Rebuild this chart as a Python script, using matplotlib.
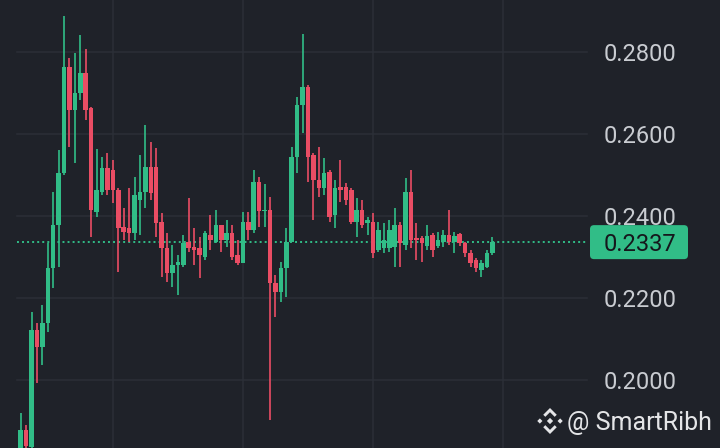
import matplotlib
matplotlib.use("Agg")
import matplotlib.pyplot as plt
import numpy as np
from matplotlib.patches import FancyBboxPatch, Polygon
from matplotlib.transforms import IdentityTransform, blended_transform_factory, ScaledTranslation

plt.rcParams['font.family'] = ['Roboto', 'DejaVu Sans']

opens = [0.1820,0.1879,0.1838,0.2123,0.2081,0.2140,0.2274,0.2379,0.2506,0.2764,
         0.2659,0.2701,0.2750,0.2664,0.2410,0.2459,0.2518,0.2513,0.2464,0.2374,
         0.2371,0.2359,0.2440,0.2459,0.2520,0.2520,0.2386,0.2323,0.2262,0.2281,
         0.2281,0.2337,0.2325,0.2323,0.2301,0.2354,0.2337,0.2379,0.2342,0.2359,
         0.2306,0.2286,0.2386,0.2367,0.2484,0.2413,0.2415,0.2237,0.2215,0.2274,
         0.2337,0.2545,0.2671,0.2715,0.2549,0.2488,0.2469,0.2508,0.2403,0.2472,
         0.2472,0.2464,0.2386,0.2415,0.2384,0.2386,0.2318,0.2323,0.2323,0.2325,
         0.2379,0.2330,0.2459,0.2347,0.2347,0.2328,0.2354,0.2328,0.2337,0.2354,
         0.2337,0.2357,0.2335,0.2310,0.2293,0.2269,0.2276,0.2310]
closes = [0.1879,0.1840,0.2123,0.2081,0.2140,0.2274,0.2379,0.2506,0.2764,0.2659,
          0.2701,0.2750,0.2659,0.2415,0.2464,0.2518,0.2464,0.2464,0.2371,0.2362,
          0.2359,0.2452,0.2459,0.2520,0.2457,0.2384,0.2323,0.2262,0.2281,0.2288,
          0.2335,0.2323,0.2318,0.2306,0.2359,0.2342,0.2379,0.2342,0.2359,0.2301,
          0.2286,0.2386,0.2367,0.2484,0.2413,0.2415,0.2237,0.2215,0.2274,0.2337,
          0.2545,0.2671,0.2715,0.2545,0.2488,0.2469,0.2506,0.2398,0.2469,0.2464,
          0.2440,0.2386,0.2415,0.2379,0.2391,0.2310,0.2367,0.2342,0.2367,0.2379,
          0.2335,0.2459,0.2342,0.2342,0.2335,0.2352,0.2318,0.2342,0.2354,0.2337,
          0.2352,0.2335,0.2310,0.2286,0.2274,0.2286,0.2310,0.2337]
highs = [0.1920,0.1891,0.2167,0.2140,0.2184,0.2335,0.2459,0.2562,0.2889,0.2786,
         0.2798,0.2842,0.2808,0.2667,0.2564,0.2545,0.2554,0.2537,0.2469,0.2420,
         0.2469,0.2496,0.2550,0.2623,0.2581,0.2567,0.2408,0.2359,0.2330,0.2306,
         0.2354,0.2445,0.2371,0.2350,0.2364,0.2403,0.2415,0.2379,0.2391,0.2379,
         0.2342,0.2410,0.2410,0.2513,0.2496,0.2479,0.2447,0.2257,0.2288,0.2371,
         0.2569,0.2691,0.2845,0.2720,0.2554,0.2569,0.2542,0.2513,0.2488,0.2537,
         0.2481,0.2469,0.2445,0.2440,0.2398,0.2408,0.2386,0.2384,0.2391,0.2420,
         0.2386,0.2494,0.2513,0.2384,0.2352,0.2379,0.2359,0.2362,0.2367,0.2415,
         0.2362,0.2359,0.2337,0.2318,0.2298,0.2293,0.2318,0.2350]
lows = [0.1800,0.1810,0.1830,0.1993,0.2037,0.2118,0.2225,0.2276,0.2500,0.2569,
        0.2530,0.2684,0.2635,0.2350,0.2398,0.2452,0.2452,0.2432,0.2264,0.2342,
        0.2337,0.2342,0.2354,0.2420,0.2440,0.2350,0.2252,0.2240,0.2227,0.2208,
        0.2276,0.2313,0.2281,0.2250,0.2293,0.2318,0.2335,0.2313,0.2325,0.2293,
        0.2281,0.2286,0.2342,0.2359,0.2374,0.2374,0.1903,0.2154,0.2191,0.2203,
        0.2337,0.2506,0.2603,0.2484,0.2391,0.2447,0.2452,0.2386,0.2371,0.2435,
        0.2428,0.2381,0.2350,0.2371,0.2354,0.2298,0.2313,0.2310,0.2313,0.2276,
        0.2276,0.2318,0.2323,0.2293,0.2288,0.2318,0.2301,0.2323,0.2325,0.2330,
        0.2310,0.2328,0.2301,0.2276,0.2264,0.2252,0.2274,0.2306]

yticks = [0.20, 0.22, 0.24, 0.26, 0.28]
ytick_labels = ["0.2000", "0.2200", "0.2400", "0.2600", "0.2800"]
vgrid_idx = [17, 41, 65, 89]
last_price = closes[-1]
last_label = "0.2337"
watermark = "@ SmartRibh"

BG = '#1f2229'
GRID = '#2b2f37'
GREEN = '#31bd87'
RED = '#ea4d64'
TXT = '#c9ccd1'

W, H = 720, 448
fig = plt.figure(figsize=(W/100, H/100), dpi=100, facecolor=BG)
ax = fig.add_axes([0, 0, 1, 1], facecolor=BG)

step = 5.42
x0 = 20.7
ax.set_xlim(-x0/step, (W - x0)/step)
ax.set_ylim(0.183490, 0.292756)
ax.axis('off')

gl, gr = 17/W, 587/W
for yv in yticks:
    ax.axhline(yv, xmin=gl, xmax=gr, color=GRID, lw=1.1, zorder=0)
for xv in vgrid_idx:
    ax.axvline(xv, color=GRID, lw=1.1, zorder=0)

o = np.array(opens); c = np.array(closes); h = np.array(highs); l = np.array(lows)
idx = np.arange(len(o))
up = c >= o
cols = np.where(up, GREEN, RED)
ax.vlines(idx, l, h, colors=cols, lw=1.2, zorder=2)
bottoms = np.minimum(o, c)
heights = np.maximum(np.abs(c - o), 0.00025)
ax.bar(idx, heights, bottom=bottoms, width=0.84, color=cols, edgecolor='none', zorder=3)

ax.axhline(last_price, xmin=gl, xmax=gr, color=GREEN, lw=1.4,
           linestyle=(0, (1, 1.6)), zorder=1)

# shift so that digits (no descenders) are visually centred on the value
down = ScaledTranslation(0, -8.4/100, fig.dpi_scale_trans)
bt = blended_transform_factory(ax.transAxes, ax.transData) + down
for yv, lab in zip(yticks, ytick_labels):
    ax.text(604/W, yv, lab, transform=bt, ha='left', va='baseline',
            fontsize=17, color=TXT, zorder=4)

fig.canvas.draw()
_, yd = ax.transData.transform((0, last_price))
box = FancyBboxPatch((590, yd - 17), 98, 34, boxstyle="round,pad=0,rounding_size=4",
                     transform=IdentityTransform(), facecolor=GREEN, edgecolor='none', zorder=5)
ax.add_patch(box)
ax.text(604, yd - 8.4, last_label, transform=IdentityTransform(), ha='left', va='baseline',
        fontsize=17, color='#15171c', zorder=6)

# watermark logo
cx, cy, s = 550, 27, 13
def P(pts):
    return [(cx + s*px, cy + s*py) for px, py in pts]
logo_col = '#e4e5e7'
shapes = [
    [(0, 0.24), (0.24, 0), (0, -0.24), (-0.24, 0)],
    [(-0.78, 0.2), (-0.58, 0), (-0.78, -0.2), (-0.98, 0)],
    [(0.78, 0.2), (0.98, 0), (0.78, -0.2), (0.58, 0)],
    [(0, 1), (0.52, 0.48), (0.36, 0.32), (0, 0.68), (-0.36, 0.32), (-0.52, 0.48)],
    [(0, -1), (0.52, -0.48), (0.36, -0.32), (0, -0.68), (-0.36, -0.32), (-0.52, -0.48)],
]
for shp in shapes:
    ax.add_patch(Polygon(P(shp), closed=True, transform=IdentityTransform(),
                         facecolor=logo_col, edgecolor='none', zorder=6))
ax.text(567, 18.5, watermark, transform=IdentityTransform(), ha='left', va='baseline',
        fontsize=18, color=logo_col, zorder=6)

fig.savefig('out.png', dpi=100, facecolor=BG)
